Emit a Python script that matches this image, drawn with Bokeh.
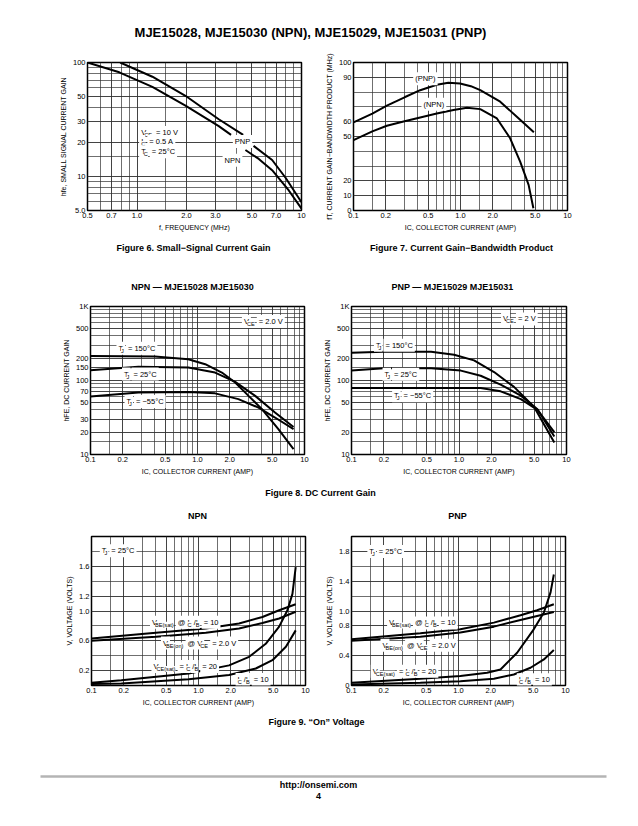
import numpy as np
from bokeh.plotting import figure
from bokeh.models import Range1d, FixedTicker, Label
from bokeh.layouts import column, row
from bokeh.embed import file_html
from bokeh.resources import INLINE
from bokeh.core.properties import value

nan = np.nan

# ---------------- data ----------------
# Figure 6: small-signal current gain vs frequency
f_npn = [0.5, 0.78, 1.24, 1.97, 3.14, 3.73, nan, 4.56, 5.5, 6.63, 8.37, 10.0]
hfe_npn = [100, 82, 61, 41.7, 27.6, 23.1, nan, 17.0, 14.2, 11.3, 7.5, 5.2]
f_pnp = [0.79, 1.24, 1.97, 3.14, 4.42, nan, 5.11, 6.63, 8.0, 10.0]
hfe_pnp = [100, 75, 51, 31.7, 23.1, nan, 18.5, 13.9, 9.7, 5.9]

# Figure 7: current gain-bandwidth product
ic_ft_pnp = [0.1, 0.15, 0.205, 0.3, 0.42, 0.6, 0.77, 0.99, 1.25, 1.53, 2.35, 3.36, 4.85]
ft_pnp = [59.6, 65.5, 70.8, 76.5, 81.3, 85.0, 86.3, 85.8, 84.0, 81.3, 73.5, 63.4, 52.8]
ic_ft_npn = [0.1, 0.15, 0.205, 0.3, 0.42, 0.6, 0.86, 1.15, 1.53, 2.19, 2.91, 3.61, 4.33, 4.8]
ft_npn = [47.6, 53.5, 57.3, 60.3, 62.9, 65.5, 67.9, 69.4, 68.5, 62.2, 48.8, 33.0, 17.3, 1.5]

# Figure 8: DC current gain, NPN
ic_n150 = [0.1, 0.4, 0.82, 1.18, 1.69, 2.25, 3.0, 4.0, 5.7, 7.9]
hfe_n150 = [215, 211, 194, 166, 128, 94, 62, 41, 22, 11.8]
ic_n25 = [0.1, 0.28, 0.82, 1.46, 2.25, 3.46, 5.3, 7.9]
hfe_n25 = [138, 153, 150, 128, 96, 62, 37, 23.5]
ic_nm55 = [0.1, 0.28, 0.82, 1.46, 2.41, 3.72, 5.3, 7.9]
hfe_nm55 = [61, 69, 70, 67, 56, 43, 31.6, 22]

# Figure 8: DC current gain, PNP
ic_p150 = [0.1, 0.2, 0.55, 0.9, 1.38, 2.12, 3.25, 5.0, 7.7]
hfe_p150 = [237, 245, 245, 223, 187, 130, 82, 44, 14.5]
ic_p25 = [0.1, 0.2, 0.55, 1.04, 1.59, 2.44, 3.76, 5.37, 7.7]
hfe_p25 = [136, 146, 146, 136, 116, 88, 62.5, 41, 17.5]
ic_pm55 = [0.1, 0.5, 1.59, 2.44, 3.76, 5.37, 7.7]
hfe_pm55 = [79, 79, 79, 71.4, 56, 40, 20]

# Figure 9: "On" voltage, NPN
ic_n_be = [0.1, 0.4, 1.17, 2.39, 3.96, 5.67, 8.1]
vbe_sat_n = [0.63, 0.707, 0.765, 0.832, 0.92, 1.01, 1.09]
vbe_on_n = [0.60, 0.654, 0.707, 0.765, 0.84, 0.90, 0.99]
ic_n_ce20 = [0.1, 0.19, 0.81, 1.93, 2.97, 4.25, 5.67, 6.78, 7.55, 8.1]
vce_sat20_n = [0.036, 0.071, 0.16, 0.27, 0.385, 0.56, 0.79, 1.01, 1.23, 1.59]
ic_n_ce10 = [0.1, 0.19, 0.81, 1.93, 3.43, 4.91, 6.56, 8.1]
vce_sat10_n = [0.02, 0.027, 0.085, 0.14, 0.228, 0.34, 0.52, 0.74]

# Figure 9: "On" voltage, PNP
ic_p_be = [0.1, 0.44, 1.04, 2.14, 3.8, 5.43, 7.78]
vbe_sat_p = [0.62, 0.70, 0.754, 0.844, 0.943, 1.01, 1.09]
vbe_on_p = [0.60, 0.655, 0.71, 0.79, 0.88, 0.934, 0.987]
ic_p_ce20 = [0.1, 0.44, 1.04, 1.85, 2.47, 3.53, 5.05, 6.28, 7.25, 7.78]
vce_sat20_p = [0.036, 0.09, 0.126, 0.17, 0.215, 0.44, 0.754, 0.98, 1.25, 1.49]
ic_p_ce10 = [0.1, 0.44, 1.04, 2.14, 3.29, 4.71, 6.28, 7.78]
vce_sat10_p = [0.013, 0.036, 0.058, 0.09, 0.148, 0.238, 0.35, 0.476]

# tick labels
x1_ticks = [0.5, 0.7, 1, 2, 3, 5, 7, 10]
x1_labels = ["0.5", "0.7", "1.0", "2.0", "3.0", "5.0", "7.0", "10"]
y1_ticks = [5, 10, 20, 30, 50, 100]
y1_labels = ["5.0", "10", "20", "30", "50", "100"]
ic_ticks = [0.1, 0.2, 0.5, 1, 2, 5, 10]
ic_labels = ["0.1", "0.2", "0.5", "1.0", "2.0", "5.0", "10"]
y2_ticks = [0, 10, 20, 50, 60, 90, 100]
y2_labels = ["0", "10", "20", "50", "60", "90", "100"]
y3_ticks = [10, 20, 30, 50, 70, 100, 150, 200, 500, 1000]
y3_labels = ["10", "20", "30", "50", "70", "100", "150", "200", "500", "1K"]
y4_ticks = [10, 20, 50, 100, 200, 500, 1000]
y4_labels = ["10", "20", "50", "100", "200", "500", "1K"]
y5_ticks = [0.2, 0.6, 1.0, 1.2, 1.6]
y5_labels = ["0.2", "0.6", "1.0", "1.2", "1.6"]
y6_ticks = [0, 0.4, 0.8, 1.0, 1.4, 1.8]
y6_labels = ["0", "0.4", "0.8", "1.0", "1.4", "1.8"]

# ---------------- fonts ----------------
FONT = "Liberation Sans"
BFONT = "Liberation Sans"
TICK_FS = "7.5px"
AXL_FS = "7px"
LBL_FS = 7.5

HW = {' ': 278, '(': 333, ')': 333, '.': 278, '/': 278, ',': 278, '=': 584, '@': 1015,
      '°': 400, '−': 584, '-': 333, 'A': 667, 'B': 667, 'C': 722, 'D': 722, 'E': 667,
      'F': 611, 'I': 278, 'J': 500, 'N': 722, 'O': 778, 'P': 667, 'S': 667, 'T': 611,
      'V': 667, 'a': 556, 'b': 556, 'n': 556, 'o': 556, 's': 500, 't': 278, 'l': 222}


def tw(s, size):
    return sum(HW.get(c, 556) for c in s) * size / 1000.0


def rich(p, x, y, parts, size=LBL_FS, align="center"):
    sub = size * 0.75
    widths = [tw(t, sub if s else size) for t, s in parts]
    off = -sum(widths) / 2 if align == "center" else 0.0
    mains, subs = [], []
    for (t, s), w in zip(parts, widths):
        stripped = t.lstrip(" ")
        lead = tw(t[:len(t) - len(stripped)], sub if s else size)
        lab = Label(x=x, y=y, x_offset=off + lead, y_offset=(-2.5 if s else 0),
                    text=stripped, text_font=FONT,
                    text_font_size=f"{sub if s else size}px",
                    text_align="left", text_baseline="middle", text_color="black",
                    background_fill_color="white", padding=(0 if s else 2))
        (subs if s else mains).append(lab)
        off += w
    for lab in mains + subs:
        p.add_layout(lab)


def log_grid(lo, hi):
    vals = []
    for k in range(-2, 4):
        for m in [1, 1.5, 2, 3, 4, 5, 6, 7, 8, 9]:
            v = m * 10.0 ** k
            if lo * 0.999 <= v <= hi * 1.001:
                vals.append(v)
    return vals


def lin_grid(lo, hi, step):
    n = int(round((hi - lo) / step))
    return [lo + i * step for i in range(n + 1)]


def chart(w, h, bl, br, bt, bb, xr, yr, ytype, xt, xl, yt, yl, xg, yg, xtitle, ytitle):
    p = figure(width=w, height=h, x_axis_type="log", y_axis_type=ytype,
               x_range=Range1d(*xr), y_range=Range1d(*yr),
               output_backend="svg", toolbar_location=None,
               min_border_left=bl, min_border_right=br,
               min_border_top=bt, min_border_bottom=bb)
    p.xaxis.ticker = FixedTicker(ticks=xt, minor_ticks=xg)
    p.yaxis.ticker = FixedTicker(ticks=yt, minor_ticks=yg)
    p.xaxis.major_label_overrides = dict(zip(xt, xl))
    p.yaxis.major_label_overrides = dict(zip(yt, yl))
    p.xaxis.axis_label = xtitle
    p.yaxis.axis_label = ytitle
    for ax in p.axis:
        ax.axis_line_color = None
        ax.major_tick_line_color = None
        ax.minor_tick_line_color = None
        ax.major_tick_out = 0
        ax.major_tick_in = 0
        ax.minor_tick_out = 0
        ax.minor_tick_in = 0
        ax.major_label_text_font = FONT
        ax.major_label_text_font_size = TICK_FS
        ax.major_label_text_color = "black"
        ax.axis_label_text_font = FONT
        ax.axis_label_text_font_size = AXL_FS
        ax.axis_label_text_font_style = "normal"
        ax.axis_label_text_color = "black"
        ax.major_label_standoff = 2
        ax.axis_label_standoff = 3
    p.grid.grid_line_color = "#303030"
    p.grid.grid_line_width = 0.7
    p.grid.minor_grid_line_color = "#303030"
    p.grid.minor_grid_line_width = 0.7
    p.outline_line_color = "black"
    p.outline_line_width = 1.5
    return p


PAGE_W = 636


def band(h):
    p = figure(width=PAGE_W, height=h, x_range=Range1d(0, PAGE_W), y_range=Range1d(h, 0),
               output_backend="svg", toolbar_location=None, min_border=0,
               x_axis_type=None, y_axis_type=None)
    p.grid.visible = False
    p.outline_line_color = None
    return p


def btext(p, x, y, txt, size):
    p.text(x=[x], y=[y], text=[txt], text_font=value(BFONT), text_font_style="bold",
           text_font_size=f"{size}px", text_align="center", text_baseline="middle",
           text_color="black")


LW = 2.0
IC_TITLE = "IC, COLLECTOR CURRENT (AMP)"

# ---------------- header ----------------
b0 = band(50)
btext(b0, 310, 32, "MJE15028, MJE15030 (NPN), MJE15029, MJE15031 (PNP)", 13)

# ---------------- row A ----------------
p1 = chart(316, 186, 87, 15, 12, 26, (0.5, 10), (5, 100), "log",
           x1_ticks, x1_labels, y1_ticks, y1_labels,
           log_grid(0.5, 10), log_grid(5, 100),
           "f, FREQUENCY (MHz)", "hfe, SMALL SIGNAL CURRENT GAIN")
p1.line(f_npn, hfe_npn, line_color="black", line_width=LW)
p1.line(f_pnp, hfe_pnp, line_color="black", line_width=LW)
rich(p1, 1.03, 24.3, [("V", 0), ("CE", 1), (" = 10 V", 0)], align="left")
rich(p1, 1.03, 20.2, [("I", 0), ("C", 1), (" = 0.5 A", 0)], align="left")
rich(p1, 1.03, 16.4, [("T", 0), ("C", 1), (" = 25°C", 0)], align="left")
rich(p1, 4.26, 20.2, [("PNP", 0)])
rich(p1, 3.7, 13.8, [("NPN", 0)])

p2 = chart(320, 186, 37, 69, 12, 26, (0.1, 10), (0, 100), "linear",
           ic_ticks, ic_labels, y2_ticks, y2_labels,
           log_grid(0.1, 10), lin_grid(0, 100, 10),
           IC_TITLE, "fT, CURRENT GAIN−BANDWIDTH PRODUCT (MHz)")
p2.line(ic_ft_pnp, ft_pnp, line_color="black", line_width=LW)
p2.line(ic_ft_npn, ft_npn, line_color="black", line_width=LW)
rich(p2, 0.45, 89, [("(PNP)", 0)])
rich(p2, 0.54, 71.8, [("(NPN)", 0)])

# ---------------- band 1 ----------------
b1 = band(62)
btext(b1, 193, 11, "Figure 6. Small−Signal Current Gain", 9)
btext(b1, 461, 11, "Figure 7. Current Gain−Bandwidth Product", 9)
btext(b1, 192, 50, "NPN — MJE15028 MJE15030", 9)
btext(b1, 452, 50, "PNP — MJE15029 MJE15031", 9)

# ---------------- row B ----------------
p3 = chart(318, 185, 90, 14, 8, 29, (0.1, 10), (10, 1000), "log",
           ic_ticks, ic_labels, y3_ticks, y3_labels,
           log_grid(0.1, 10), log_grid(10, 1000),
           IC_TITLE, "hFE, DC CURRENT GAIN")
p3.line(ic_n150, hfe_n150, line_color="black", line_width=LW)
p3.line(ic_n25, hfe_n25, line_color="black", line_width=LW)
p3.line(ic_nm55, hfe_nm55, line_color="black", line_width=LW)
rich(p3, 0.26, 272, [("T", 0), ("J", 1), (" = 150°C", 0)])
rich(p3, 0.28, 122, [("T", 0), ("J", 1), (" = 25°C", 0)])
rich(p3, 0.31, 52, [("T", 0), ("J", 1), (" = −55°C", 0)])
rich(p3, 3.95, 628, [("V", 0), ("CE", 1), (" = 2.0 V", 0)])

p4 = chart(318, 185, 33, 70, 8, 29, (0.1, 10), (10, 1000), "log",
           ic_ticks, ic_labels, y4_ticks, y4_labels,
           log_grid(0.1, 10), log_grid(10, 1000),
           IC_TITLE, "hFE, DC CURRENT GAIN")
p4.line(ic_p150, hfe_p150, line_color="black", line_width=LW)
p4.line(ic_p25, hfe_p25, line_color="black", line_width=LW)
p4.line(ic_pm55, hfe_pm55, line_color="black", line_width=LW)
rich(p4, 0.24, 300, [("T", 0), ("J", 1), (" = 150°C", 0)])
rich(p4, 0.276, 121, [("T", 0), ("J", 1), (" = 25°C", 0)])
rich(p4, 0.355, 62, [("T", 0), ("J", 1), (" = −55°C", 0)])
rich(p4, 3.49, 680, [("V", 0), ("CE", 1), (" = 2 V", 0)])

# ---------------- band 2 ----------------
b2 = band(43)
btext(b2, 320, 9, "Figure 8. DC Current Gain", 9)
btext(b2, 197, 32, "NPN", 9)
btext(b2, 457, 32, "PNP", 9)

# ---------------- row C ----------------
p5 = chart(318, 186, 91, 13, 10, 27, (0.1, 10), (0, 2.0), "linear",
           ic_ticks, ic_labels, y5_ticks, y5_labels,
           log_grid(0.1, 10), lin_grid(0, 2.0, 0.2),
           IC_TITLE, "V, VOLTAGE (VOLTS)")
p5.line(ic_n_be, vbe_sat_n, line_color="black", line_width=LW)
p5.line(ic_n_be, vbe_on_n, line_color="black", line_width=LW)
p5.line(ic_n_ce20, vce_sat20_n, line_color="black", line_width=LW)
p5.line(ic_n_ce10, vce_sat10_n, line_color="black", line_width=LW)
rich(p5, 0.72, 0.85, [("V", 0), ("BE(sat)", 1), (" @ I", 0), ("C", 1), ("/I", 0), ("B", 1), (" = 10", 0)])
rich(p5, 0.98, 0.57, [("V", 0), ("BE(on)", 1), (" @ V", 0), ("CE", 1), (" = 2.0 V", 0)])
rich(p5, 0.72, 0.255, [("V", 0), ("CE(sat)", 1), (" = I", 0), ("C", 1), ("/I", 0), ("B", 1), (" = 20", 0)])
rich(p5, 3.1, 0.08, [("I", 0), ("C", 1), ("/I", 0), ("B", 1), (" = 10", 0)])
rich(p5, 0.17, 1.81, [("T", 0), ("J", 1), (" = 25°C", 0)])

p6 = chart(318, 186, 33, 71, 10, 27, (0.1, 10), (0, 2.0), "linear",
           ic_ticks, ic_labels, y6_ticks, y6_labels,
           log_grid(0.1, 10), lin_grid(0, 2.0, 0.2),
           IC_TITLE, "V, VOLTAGE (VOLTS)")
p6.line(ic_p_be, vbe_sat_p, line_color="black", line_width=LW)
p6.line(ic_p_be, vbe_on_p, line_color="black", line_width=LW)
p6.line(ic_p_ce20, vce_sat20_p, line_color="black", line_width=LW)
p6.line(ic_p_ce10, vce_sat10_p, line_color="black", line_width=LW)
rich(p6, 0.44, 0.84, [("V", 0), ("BE(sat)", 1), (" @ I", 0), ("C", 1), ("/I", 0), ("B", 1), (" = 10", 0)])
rich(p6, 0.41, 0.54, [("V", 0), ("BE(on)", 1), (" @ V", 0), ("CE", 1), (" = 2.0 V", 0)])
rich(p6, 0.30, 0.19, [("V", 0), ("CE(sat)", 1), (" = I", 0), ("C", 1), ("/I", 0), ("B", 1), (" = 20", 0)])
rich(p6, 4.9, 0.077, [("I", 0), ("C", 1), ("/I", 0), ("B", 1), (" = 10", 0)])
rich(p6, 0.2, 1.8, [("T", 0), ("J", 1), (" = 25°C", 0)])

# ---------------- footer ----------------
b3 = band(100)
btext(b3, 316, 9, "Figure 9. “On” Voltage", 9)
b3.segment(x0=[40], y0=[64], x1=[606], y1=[64], line_color="#b4b4b4", line_width=2.5)
btext(b3, 318, 72, "http://onsemi.com", 9)
btext(b3, 318, 83, "4", 9)

layout = column(b0, row(p1, p2), b1, row(p3, p4), b2, row(p5, p6), b3)
open("out.html", "w").write(file_html(layout, INLINE))
